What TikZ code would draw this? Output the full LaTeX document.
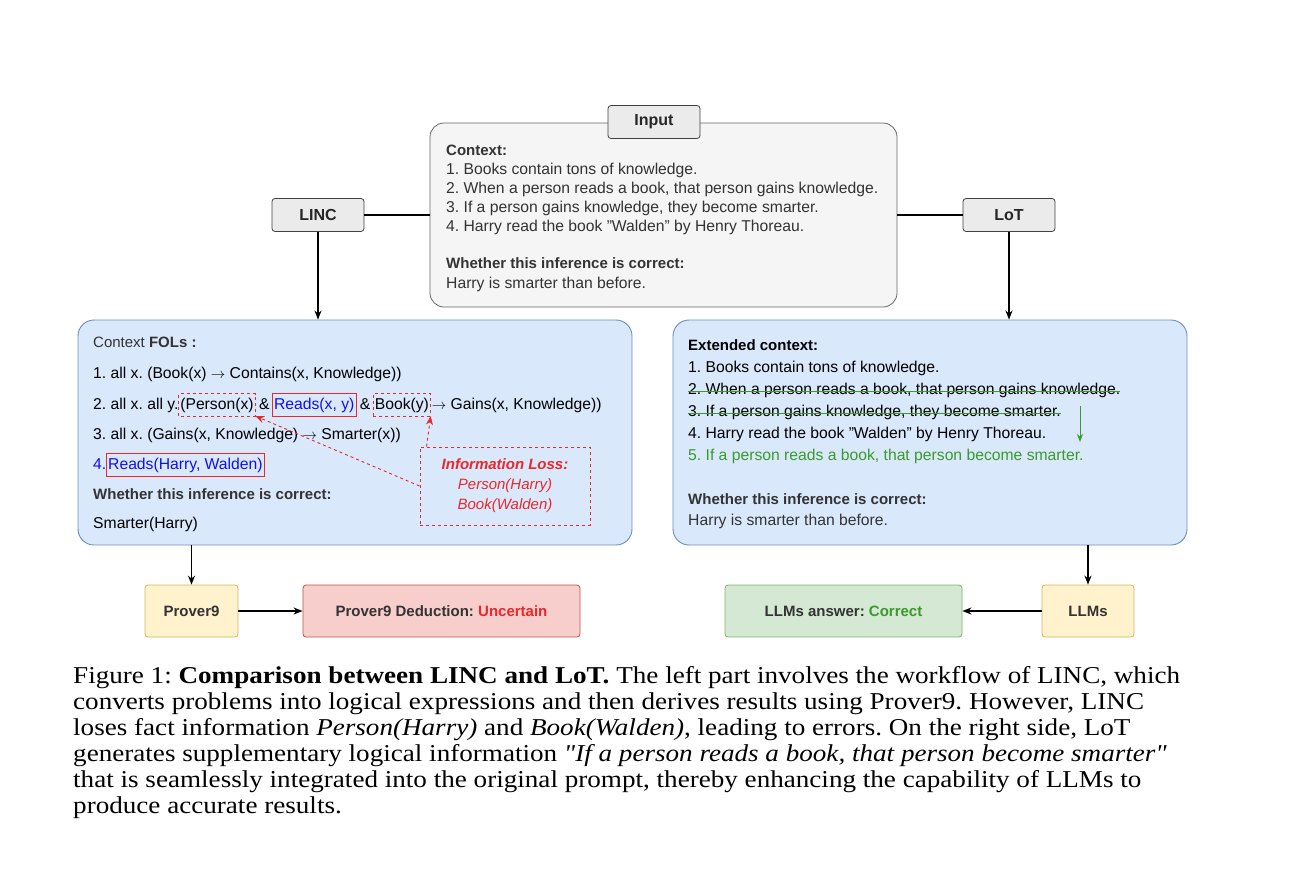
\documentclass[tikz,border=0pt]{standalone}
\usepackage{fontspec}
\setmainfont{Liberation Sans}
\newfontfamily\capfont{Liberation Serif}[FakeStretch=1.12]
\usetikzlibrary{arrows.meta}
\frenchspacing
\definecolor{tx}{HTML}{333333}
\definecolor{bfill}{HTML}{DAE8FC}\definecolor{bline}{HTML}{6C8EBF}
\definecolor{yfill}{HTML}{FFF2CC}\definecolor{yline}{HTML}{D6B656}
\definecolor{rfill}{HTML}{F8CECC}\definecolor{rline}{HTML}{B85450}
\definecolor{gfill}{HTML}{D5E8D4}\definecolor{gline}{HTML}{82B366}
\definecolor{grn}{HTML}{3A9A2A}\definecolor{myred}{HTML}{E8282B}
\definecolor{myblue}{HTML}{1010EE}
\begin{document}
\begin{tikzpicture}[x=1pt,y=-1pt,
  big/.style={draw=bline,fill=bfill,rounded corners=16pt,line width=0.9pt},
  lab/.style={draw=black!75,fill=black!8,rounded corners=3pt,minimum width=92pt,minimum height=33pt,font=\fontsize{16}{18}\selectfont\bfseries,text=black!85,line width=0.8pt},
  res/.style={rounded corners=3pt,minimum height=52pt,font=\fontsize{15}{18}\selectfont\bfseries,text=tx,line width=0.8pt},
  ln/.style={anchor=base west,inner sep=0pt,font=\frenchspacing\fontsize{15.7}{17}\selectfont,text=black},
  rn/.style={anchor=base west,inner sep=0pt,font=\frenchspacing\fontsize{15.7}{17}\selectfont,text=black},
  box/.style={anchor=base west,inner xsep=1.5pt,inner ysep=3.5pt,font=\fontsize{15.7}{17}\selectfont},
  redsolid/.style={draw=myred,line width=0.9pt},
  reddash/.style={draw=myred,line width=0.9pt,dashed},
  arr/.style={-{Stealth[length=9pt,width=7pt]},line width=1pt},
  captxt/.style={anchor=base west,inner sep=0pt,font=\capfont\frenchspacing\fontsize{24.2}{26}\selectfont}]
\useasboundingbox (0,0) rectangle (1296,876);
% Input
\node[draw=black!60,fill=black!4,rounded corners=14pt,minimum width=467pt,minimum height=184pt,line width=0.8pt] (inp) at (663.5,215) {};
\node[lab] (inl) at (654,122) {Input};
\node[rn,font=\fontsize{15}{17}\selectfont\bfseries,text=tx] (i0) at (446,155) {Context:};
\node[rn,text=tx] (i1) at (446,174) {1. Books contain tons of knowledge.};
\node[rn,text=tx] (i2) at (446,193) {2. When a person reads a book, that person gains knowledge.};
\node[rn,text=tx] (i3) at (446,212) {3. If a person gains knowledge, they become smarter.};
\node[rn,text=tx] (i4) at (446,231) {4. Harry read the book "Walden" by Henry Thoreau.};
\node[rn,font=\fontsize{15}{17}\selectfont\bfseries,text=tx] (i5) at (446,268) {Whether this inference is correct:};
\node[rn,text=tx] (i6) at (446,288) {Harry is smarter than before.};
% LINC / LoT
\node[lab] (linc) at (318,215) {LINC};
\node[lab] (lot) at (1009,215) {LoT};
\draw[line width=1.6pt] (linc.east) -- (inp.west|-linc.east);
\draw[line width=1.6pt] (lot.west) -- (inp.east|-lot.west);
% big boxes
\node[big,minimum width=554pt,minimum height=225pt] (lb) at (355,432.5) {};
\node[big,minimum width=514pt,minimum height=225pt] (rb) at (930,432.5) {};
\draw[arr,line width=1.1pt] (linc.south) -- (linc.south|-lb.north);
\draw[arr,line width=1.8pt] (lot.south) -- (lot.south|-rb.north);
% left content
\node[ln,text=tx,font=\fontsize{15}{17}\selectfont] (c0) at (93,347) {Context \textbf{FOLs :}};
\node[ln] (c1) at (93,378) {1. all x. (Book(x) $\rightarrow$ Contains(x, Knowledge))};
\node[ln] (c2a) at (93,409) {2. all x. all y. };
\node[box] (pp) at (c2a.base east) {(Person(x)};
\node[ln] (amp1) at ([xshift=1pt]pp.base east) {\,\&\,};
\node[box,text=myblue] (rd) at (amp1.base east) {Reads(x, y)};
\node[ln] (amp2) at ([xshift=1pt]rd.base east) {\,\&\,};
\node[box] (bk) at (amp2.base east) {Book(y)};
\node[ln] (c2e) at ([xshift=1pt]bk.base east) {$\rightarrow$ Gains(x, Knowledge))};
\draw[reddash] (pp.south west) rectangle (pp.north east);
\draw[redsolid] (rd.south west) rectangle (rd.north east);
\draw[reddash] (bk.south west) rectangle (bk.north east);
\node[ln] (c3) at (93,439) {3. all x. (Gains(x, Knowledge) $\rightarrow$ Smarter(x))};
\node[ln,text=myblue] (c4a) at (93,469) {4. };
\node[box,text=myblue] (rhw) at (c4a.base east) {Reads(Harry, Walden)};
\draw[redsolid] (rhw.south west) rectangle (rhw.north east);
\node[ln,text=tx,font=\fontsize{15}{17}\selectfont\bfseries] (c5) at (93,499) {Whether this inference is correct:};
\node[ln] (c6) at (93,528) {Smarter(Harry)};
\node[reddash,minimum width=170pt,minimum height=78pt,align=center,text=myred,font=\fontsize{15}{20}\selectfont\itshape] (il) at (505,486)
 {\textbf{Information Loss:}\\Person(Harry)\\Book(Walden)};
\draw[myred,dashed,line width=0.9pt,-{Stealth[length=9pt,width=7pt]}] (il.west) -- (pp.south east);
\draw[myred,dashed,line width=0.9pt,-{Stealth[length=9pt,width=7pt]}] ([xshift=7pt]il.north west) -- (bk.south east);
% right content
\node[rn,font=\fontsize{15}{17}\selectfont\bfseries] (e0) at (688,350) {Extended context:};
\node[rn] (e1) at (688,372) {1. Books contain tons of knowledge.};
\node[rn] (e2) at (688,394) {2. When a person reads a book, that person gains knowledge.};
\node[rn] (e3) at (688,416) {3. If a person gains knowledge, they become smarter.};
\node[rn] (e4) at (688,438) {4. Harry read the book "Walden" by Henry Thoreau.};
\node[rn,text=grn] (e5) at (688,460) {5. If a person reads a book, that person become smarter.};
\node[rn,text=tx,font=\fontsize{15}{17}\selectfont\bfseries] (e6) at (688,504) {Whether this inference is correct:};
\node[rn,text=tx] (e7) at (688,525) {Harry is smarter than before.};
\draw[grn,line width=1pt] ([yshift=2.5pt]e2.base west) -- ([yshift=2.5pt]e2.base east);
\draw[grn,line width=1pt] ([yshift=2.5pt]e3.base west) -- ([yshift=2.5pt]e3.base east);
\coordinate (ga) at (1080,406);\coordinate (gb) at (1080,442);
\draw[grn,line width=1pt,-{Stealth[length=8pt,width=6pt]}] (ga) -- (gb);
% bottom
\node[res,draw=yline,fill=yfill,minimum width=93pt] (pv) at (191.5,611) {Prover9};
\node[res,draw=rline,fill=rfill,minimum width=277pt] (pd) at (441.5,611) {Prover9 Deduction: \textcolor{myred}{Uncertain}};
\node[res,draw=gline,fill=gfill,minimum width=237pt] (la) at (843.5,611) {LLMs answer: \textcolor{grn}{Correct}};
\node[res,draw=yline,fill=yfill,minimum width=92pt] (llm) at (1088,611) {LLMs};
\draw[arr,line width=1.8pt] (pv.north|-lb.south) -- (pv.north);
\draw[arr,line width=1.8pt] (pv.east) -- (pd.west);
\draw[arr,line width=1.8pt] (llm.north|-rb.south) -- (llm.north);
\draw[arr,line width=1.8pt] (llm.west) -- (la.east);
% caption
\node[captxt] (k1) at (73,683) {Figure 1: \textbf{Comparison between LINC and LoT.} The left part involves the workflow of LINC, which};
\node[captxt] (k2) at (73,709) {converts problems into logical expressions and then derives results using Prover9. However, LINC};
\node[captxt] (k3) at (73,735) {loses fact information \textit{Person(Harry)} and \textit{Book(Walden)}, leading to errors. On the right side, LoT};
\node[captxt] (k4) at (73,761) {generates supplementary logical information \textit{"If a person reads a book, that person become smarter"}};
\node[captxt] (k5) at (73,787) {that is seamlessly integrated into the original prompt, thereby enhancing the capability of LLMs to};
\node[captxt] (k6) at (73,813) {produce accurate results.};
\end{tikzpicture}
\end{document}
